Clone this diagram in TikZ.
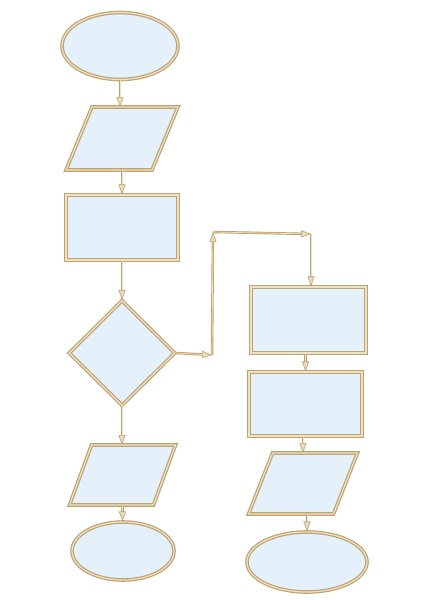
\documentclass[tikz,border=0pt]{standalone}
\usetikzlibrary{shapes.geometric,arrows.meta}
\definecolor{gold}{HTML}{BFA272}
\definecolor{goldlight}{HTML}{EFE2C4}
\definecolor{boxfill}{HTML}{E4F0FA}
\definecolor{tipfill}{HTML}{E9DCBC}
\tikzset{
  box/.style={draw=gold, line width=1.2pt, double=goldlight, double distance=1.2pt, fill=boxfill, inner sep=0pt},
  oval/.style={box, ellipse},
  rectbox/.style={box, rectangle},
  dia/.style={box, diamond},
  paraframe/.style={inner sep=0pt, outer sep=0pt},
  conn/.style={draw=gold, line width=0.9pt, double=goldlight, double distance=0.7pt,
    -{Triangle[width=7pt,length=10pt,fill=tipfill,line width=0.6pt]}},
}
% parallelogram: node name, centre, top-edge width, height, half slant
\newcommand{\mypara}[5]{%
  \node[paraframe, minimum width=#3, minimum height=#4] (#1) at #2 {};
  \draw[box] ([xshift=#5]#1.north west) -- ([xshift=#5]#1.north east)
    -- ([xshift=-#5]#1.south east) -- ([xshift=-#5]#1.south west) -- cycle;
}
\begin{document}
\begin{tikzpicture}[x=1pt,y=-1pt]
\useasboundingbox[fill=white] (0,0) rectangle (424,600);
% left column
\node[oval, minimum width=116pt, minimum height=67pt] (e1) at (120,46) {};
\mypara{p1}{(122,138.5)}{86pt}{63pt}{13pt}
\node[rectbox, minimum width=112pt, minimum height=65pt] (r1) at (122,227.5) {};
\node[dia, minimum width=106pt, minimum height=105pt] (d) at (122,353) {};
\mypara{p2}{(122.5,475)}{84pt}{60pt}{11pt}
\node[oval, minimum width=102pt, minimum height=58pt] (e2) at (123,551) {};
% right column
\node[rectbox, minimum width=115pt, minimum height=66pt] (r2) at (308.5,320) {};
\node[rectbox, minimum width=113pt, minimum height=64pt] (r3) at (305.5,404) {};
\mypara{p3}{(303,483.5)}{85pt}{61pt}{12pt}
\node[oval, minimum width=120pt, minimum height=60pt] (e3) at (307,562) {};
% corners of the branch connector
\coordinate (c1) at (212,355);
\coordinate (c2) at (213,232);
\coordinate (c3) at (311,234);
% connectors
\draw[conn] (e1.south) -- (e1.south |- p1.north);
\draw[conn] (p1.south) -- (p1.south |- r1.north);
\draw[conn] (r1.south) -- (r1.south |- d.north);
\draw[conn] (d.south) -- (d.south |- p2.north);
\draw[conn] (p2.south) -- (p2.south |- e2.north);
\draw[conn] (d.east) -- (c1);
\draw[conn] (c1) -- (c2);
\draw[conn] (c2) -- (c3);
\draw[conn] (c3) -- (c3 |- r2.north);
\draw[conn] (r2.south -| r3.north) -- (r3.north);
\draw[conn] (r3.south -| p3.north) -- (p3.north);
\draw[conn] (p3.south -| e3.north) -- (e3.north);
\end{tikzpicture}
\end{document}
